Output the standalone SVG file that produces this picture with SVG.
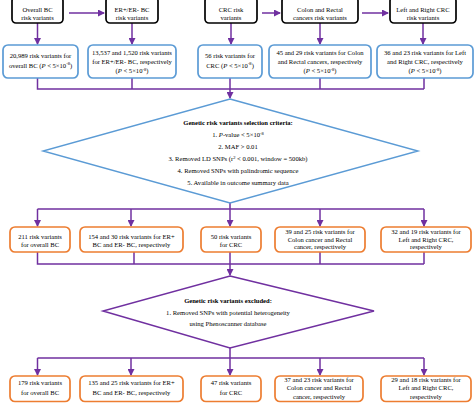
<svg xmlns="http://www.w3.org/2000/svg" width="474" height="403" viewBox="0 0 474 403">
<defs>
<marker id="ah" markerWidth="7" markerHeight="7" refX="6" refY="3.5" orient="auto" markerUnits="userSpaceOnUse">
<path d="M0,0 L7,3.5 L0,7 Z" fill="#7030A0"/>
</marker>
<style>
text{font-family:"Liberation Serif","Times New Roman",serif;font-size:6.6px;fill:#000;text-anchor:middle}
.top{fill:#fff;stroke:#000;stroke-width:1.7}
.blue{fill:#fff;stroke:#5B9BD5;stroke-width:1.7}
.orange{fill:#fff;stroke:#ED7D31;stroke-width:1.7}
.con{fill:none;stroke:#7030A0;stroke-width:1.5}
.arr{fill:none;stroke:#7030A0;stroke-width:1.5;marker-end:url(#ah)}
.b{font-weight:bold}
.s{font-size:4.5px}
</style>
</defs>
<rect width="474" height="403" fill="#fff"/>

<g id="connectors">
<path class="arr" d="M69,13 H104"/>
<path class="arr" d="M262,13 H280"/>
<path class="arr" d="M362,13 H388"/>
<path class="arr" d="M37.5,23 V44"/>
<path class="arr" d="M132,23 V44"/>
<path class="arr" d="M231,23 V44"/>
<path class="arr" d="M320,23 V44"/>
<path class="arr" d="M423,23 V44"/>
<path class="con" d="M37.5,78 V89 H424 M132,78 V89 M320,78 V89 M424,78 V89"/>
<path class="arr" d="M230,78 V98"/>
<path class="con" d="M230,203 V209 M37.5,209 H424"/>
<path class="arr" d="M37.5,209 V226"/>
<path class="arr" d="M131,209 V226"/>
<path class="arr" d="M230,209 V226"/>
<path class="arr" d="M320,209 V226"/>
<path class="arr" d="M424,209 V226"/>
<path class="con" d="M37.5,252 V264 H424 M134,252 V264 M320,252 V264 M424,252 V264"/>
<path class="arr" d="M230,252 V275"/>
<path class="con" d="M230,348 V358 M37.5,358 H424"/>
<path class="arr" d="M37.5,358 V375"/>
<path class="arr" d="M131,358 V375"/>
<path class="arr" d="M230,358 V375"/>
<path class="arr" d="M320,358 V375"/>
<path class="arr" d="M424,358 V375"/>
</g>

<g id="t1"><rect class="top" x="12" y="-3" width="51" height="26" rx="4"/><text x="37.5" y="11.5">Overall BC</text><text x="37.5" y="19.5">risk variants</text></g>
<g id="t2"><rect class="top" x="106" y="-3" width="52" height="26" rx="4"/><text x="132" y="11.5">ER+/ER- BC</text><text x="132" y="19.5">risk variants</text></g>
<g id="t3"><rect class="top" x="205" y="-3" width="52" height="26" rx="4"/><text x="231" y="11.5">CRC risk</text><text x="231" y="19.5">variants</text></g>
<g id="t4"><rect class="top" x="282" y="-3" width="76" height="26" rx="4"/><text x="320" y="11.5">Colon and Rectal</text><text x="320" y="19.5">cancers  risk variants</text></g>
<g id="t5"><rect class="top" x="390" y="-3" width="66" height="26" rx="4"/><text x="423" y="11.5">Left and Right CRC</text><text x="423" y="19.5">risk variants</text></g>

<g id="b1"><rect class="blue" x="3" y="45" width="75" height="33" rx="5"/><text x="40.5" y="58">20,989  risk variants for</text><text x="40.5" y="67.5">overall BC (<tspan font-style="italic">P</tspan> &lt; 5×10<tspan class="s" dy="-2.5">-8</tspan><tspan dy="2.5">)</tspan></text></g>
<g id="b2"><rect class="blue" x="88" y="45" width="88" height="33" rx="5"/><text x="132" y="55">13,537 and 1,520 risk variants</text><text x="132" y="64">for ER+/ER- BC, respectively</text><text x="132" y="73">(<tspan font-style="italic">P</tspan> &lt; 5×10<tspan class="s" dy="-2.5">-8</tspan><tspan dy="2.5">)</tspan></text></g>
<g id="b3"><rect class="blue" x="198" y="45" width="64" height="33" rx="5"/><text x="230" y="58">56  risk variants for</text><text x="230" y="67.5">CRC (<tspan font-style="italic">P</tspan> &lt; 5×10<tspan class="s" dy="-2.5">-8</tspan><tspan dy="2.5">)</tspan></text></g>
<g id="b4"><rect class="blue" x="269" y="45" width="102" height="33" rx="5"/><text x="320" y="55">45 and 29 risk variants for Colon</text><text x="320" y="64">and Rectal cancers, respectively</text><text x="320" y="73">(<tspan font-style="italic">P</tspan> &lt; 5×10<tspan class="s" dy="-2.5">-8</tspan><tspan dy="2.5">)</tspan></text></g>
<g id="b5"><rect class="blue" x="377" y="45" width="96" height="33" rx="5"/><text x="425" y="55">36 and 23 risk variants for Left</text><text x="425" y="64">and Right CRC, respectively</text><text x="425" y="73">(<tspan font-style="italic">P</tspan> &lt; 5×10<tspan class="s" dy="-2.5">-8</tspan><tspan dy="2.5">)</tspan></text></g>

<g id="d1"><polygon points="230,99 418,151 230,203 43,151" fill="#fff" stroke="#5B9BD5" stroke-width="1.4"/>
<text class="b" x="238" y="125">Genetic risk variants selection criteria:</text>
<text x="238" y="137">1. <tspan font-style="italic">P</tspan>-value &lt; 5×10<tspan class="s" dy="-2.5">-8</tspan></text>
<text x="238" y="149">2. MAF &gt; 0.01</text>
<text x="238" y="161">3. Removed LD SNPs (r<tspan class="s" dy="-2.5">2</tspan><tspan dy="2.5"> &lt; 0.001, window = 500kb)</tspan></text>
<text x="238" y="173">4. Removed SNPs with palindromic sequence</text>
<text x="238" y="185">5. Available in outcome summary data</text></g>

<g id="o1"><rect class="orange" x="10" y="227" width="60" height="25" rx="5"/><text x="40" y="238.5">211  risk variants</text><text x="40" y="247">for overall BC</text></g>
<g id="o2"><rect class="orange" x="80" y="227" width="103" height="25" rx="5"/><text x="131.5" y="238.5">154 and 30  risk variants  for ER+</text><text x="131.5" y="247">BC and ER- BC, respectively</text></g>
<g id="o3"><rect class="orange" x="201" y="227" width="60" height="25" rx="5"/><text x="231" y="238.5">50  risk variants</text><text x="231" y="247">for CRC</text></g>
<g id="o4"><rect class="orange" x="275" y="227" width="90" height="25" rx="5"/><text x="320" y="234">39 and 25  risk variants  for</text><text x="320" y="241.5">Colon cancer and Rectal</text><text x="320" y="249">cancer, respectively</text></g>
<g id="o5"><rect class="orange" x="381" y="227" width="90" height="25" rx="5"/><text x="426" y="234">32 and 19  risk variants for</text><text x="426" y="241.5">Left and Right CRC,</text><text x="426" y="249">respectively</text></g>

<g id="d2"><polygon points="230,276 374,311 230,348 103,311" fill="#fff" stroke="#7030A0" stroke-width="1.5"/>
<text class="b" x="228" y="303">Genetic risk variants excluded:</text>
<text x="228" y="315">1. Removed SNPs with potential heterogeneity</text>
<text x="228" y="326">using Phenoscanner database</text></g>

<g id="p1"><rect class="orange" x="10" y="376" width="60" height="25.5" rx="5"/><text x="40" y="385">179  risk variants</text><text x="40" y="395">for overall BC</text></g>
<g id="p2"><rect class="orange" x="80" y="376" width="103" height="25.5" rx="5"/><text x="131.5" y="385">135 and 25  risk variants  for ER+</text><text x="131.5" y="395">BC and ER- BC, respectively</text></g>
<g id="p3"><rect class="orange" x="201" y="376" width="60" height="25.5" rx="5"/><text x="231" y="385">47  risk variants</text><text x="231" y="395">for CRC</text></g>
<g id="p4"><rect class="orange" x="275" y="376" width="88" height="25.5" rx="5"/><text x="319" y="381.5">37 and 23  risk variants  for</text><text x="319" y="390">Colon cancer and Rectal</text><text x="319" y="398.5">cancer, respectively</text></g>
<g id="p5"><rect class="orange" x="381" y="376" width="90" height="25.5" rx="5"/><text x="426" y="381.5">29 and 18  risk variants for</text><text x="426" y="390">Left and Right CRC,</text><text x="426" y="398.5">respectively</text></g>
</svg>
